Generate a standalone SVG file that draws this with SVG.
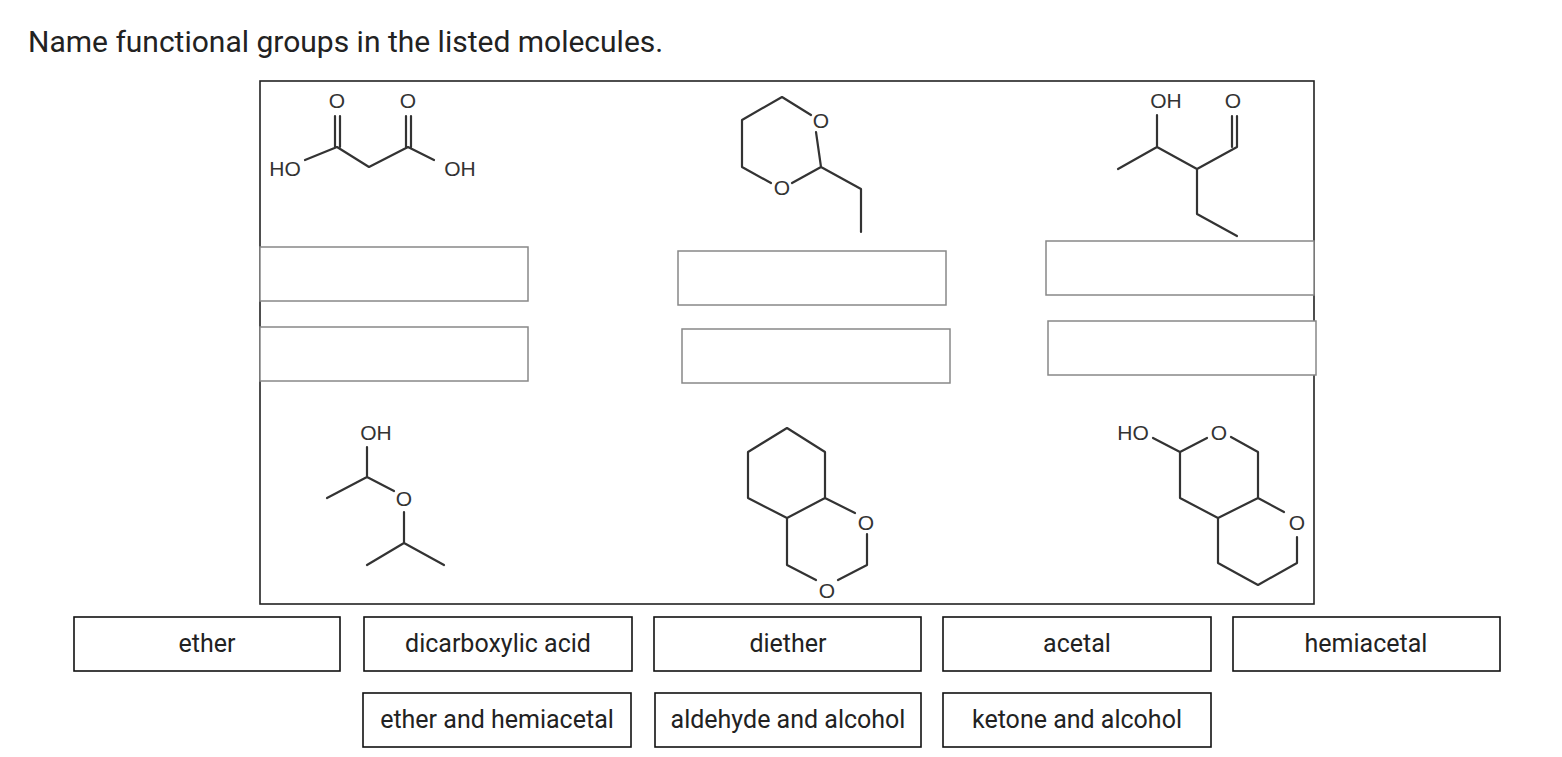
<svg xmlns="http://www.w3.org/2000/svg" width="1562" height="757" viewBox="0 0 1562 757">
<style>
.t{font-family:Roboto,"Liberation Sans",sans-serif;fill:#222}
.c{font-size:25px;text-anchor:middle}
.a{font-family:"Liberation Sans",Arial,sans-serif;font-size:21px;fill:#333;text-anchor:middle}
.b{fill:none;stroke:#333;stroke-width:2.2;stroke-linejoin:round;stroke-linecap:round}
.ab{fill:#fff;stroke:#888;stroke-width:1.5}
.ch{fill:#fff;stroke:#111;stroke-width:1.6}
</style>
<rect width="1562" height="757" fill="#fff"/>
<text class="t" x="28" y="52" font-size="30">Name functional groups in the listed molecules.</text>
<rect x="260" y="81" width="1054" height="523" fill="#fff" stroke="#222" stroke-width="1.6"/>
<g id="mol1">
<path class="b" d="M305 160 L337 147 L369 167 L408 147 L434 160 M335 147 V116 M340 147 V116 M406 147 V116 M411 147 V116"/>
<text class="a" x="285" y="176">HO</text><text class="a" x="460" y="176">OH</text>
<text class="a" x="337" y="108">O</text><text class="a" x="408" y="108">O</text>
</g>
<g id="mol2">
<path class="b" d="M811 115 L782 97 L742 120 V167 L771 183 M792 183 L821 167 L816 132 M821 167 L861 189 V232"/>
<text class="a" x="821" y="128">O</text><text class="a" x="782" y="195">O</text>
</g>
<g id="mol3">
<path class="b" d="M1157 115 V147 L1118 169 M1157 147 L1197 169 L1237 147 V116 M1232 147 V116 M1197 169 V214 L1237 236"/>
<text class="a" x="1166" y="108">OH</text><text class="a" x="1233" y="108">O</text>
</g>
<g id="mol4">
<path class="b" d="M367 447 V477 L327 498 M367 477 L394 491 M404 512 V543 L367 565 M404 543 L444 565"/>
<text class="a" x="376" y="440">OH</text><text class="a" x="404" y="506">O</text>
</g>
<g id="mol5">
<path class="b" d="M787 428 L825 452 V498 L787 518 L748 498 V452 Z M825 498 L855 513 M867 534 V565 L838 580 M816 580 L787 565 V518"/>
<text class="a" x="866" y="530">O</text><text class="a" x="827" y="598">O</text>
</g>
<g id="mol6">
<path class="b" d="M1153 438 L1180 452 L1207 438 M1231 437 L1258 452 V498 L1284 512 M1297 537 V563 L1258 585 L1218 563 V518 L1258 498 M1218 518 L1180 498 V452"/>
<text class="a" x="1133" y="440">HO</text><text class="a" x="1219" y="440">O</text><text class="a" x="1297" y="530">O</text>
</g>
<g id="answers">
<rect class="ab" x="260" y="247" width="268" height="54"/>
<rect class="ab" x="260" y="327" width="268" height="54"/>
<rect class="ab" x="678" y="251" width="268" height="54"/>
<rect class="ab" x="682" y="329" width="268" height="54"/>
<rect class="ab" x="1046" y="241" width="268" height="54"/>
<rect class="ab" x="1048" y="321" width="268" height="54"/>
</g>
<g id="choices">
<rect class="ch" x="74" y="617" width="266" height="54"/><text class="t c" x="207" y="652">ether</text>
<rect class="ch" x="364" y="617" width="268" height="54"/><text class="t c" x="498" y="652">dicarboxylic acid</text>
<rect class="ch" x="654" y="617" width="267" height="54"/><text class="t c" x="788" y="652">diether</text>
<rect class="ch" x="943" y="617" width="268" height="54"/><text class="t c" x="1077" y="652">acetal</text>
<rect class="ch" x="1233" y="617" width="267" height="54"/><text class="t c" x="1366" y="652">hemiacetal</text>
<rect class="ch" x="363" y="693" width="268" height="54"/><text class="t c" x="497" y="728">ether and hemiacetal</text>
<rect class="ch" x="655" y="693" width="266" height="54"/><text class="t c" x="788" y="728">aldehyde and alcohol</text>
<rect class="ch" x="943" y="693" width="268" height="54"/><text class="t c" x="1077" y="728">ketone and alcohol</text>
</g>
</svg>
